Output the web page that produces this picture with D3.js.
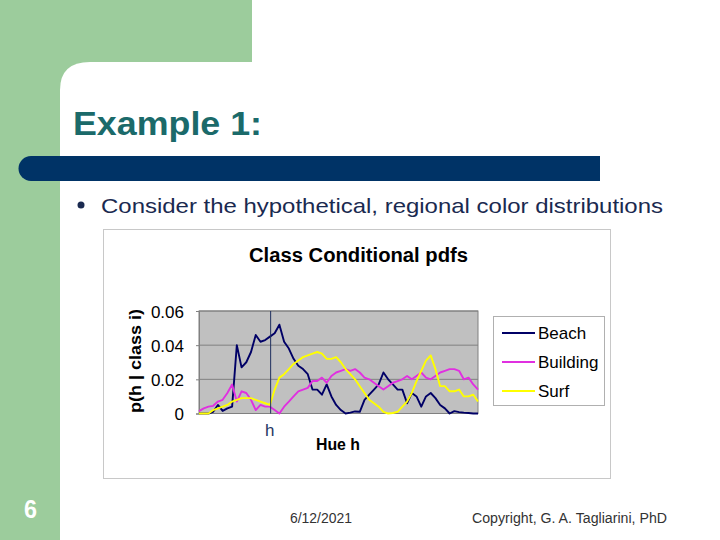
<!DOCTYPE html>
<html><head><meta charset="utf-8">
<script src="https://cdn.jsdelivr.net/npm/d3@7"></script>
<style>html,body{margin:0;padding:0;background:#fff;}svg{display:block;font-family:Arial,"Liberation Sans",sans-serif;}</style>
</head><body>
<svg id="c" width="720" height="540"></svg>
<script>
const hueIndex = d3.range(60);
const beach = [0,0,0,0.001,0.005,0.0015,0.003,0.004,0.040,0.027,0.030,0.036,0.046,0.042,0.043,0.045,0.047,0.052,0.042,0.038,0.032,0.028,0.026,0.023,0.014,0.014,0.011,0.017,0.010,0.005,0.002,0,0.0005,0.0012,0.001,0.008,0.011,0.014,0.017,0.024,0.020,0.017,0.014,0.014,0.006,0.012,0.010,0.004,0.010,0.012,0.009,0.005,0.003,0,0.0014,0.0008,0.0005,0.0003,0,0];
const building = [0.0014,0.003,0.004,0.0045,0.007,0.008,0.012,0.017,0.007,0.013,0.012,0.008,0.002,0.005,0.004,0.004,0.002,0,0.004,0.007,0.010,0.013,0.014,0.015,0.019,0.019,0.021,0.018,0.022,0.024,0.025,0.026,0.025,0.026,0.024,0.021,0.020,0.018,0.016,0.014,0.016,0.018,0.019,0.020,0.022,0.020,0.022,0.024,0.021,0.020,0.022,0.024,0.025,0.026,0.026,0.025,0.020,0.021,0.017,0.014];
const surf = [0,0,0,0.002,0.003,0.004,0.005,0.007,0.008,0.009,0.009,0.009,0.008,0.007,0.006,0.005,0.014,0.021,0.023,0.026,0.029,0.031,0.033,0.034,0.035,0.036,0.035,0.032,0.032,0.033,0.030,0.026,0.023,0.020,0.016,0.012,0.008,0.006,0.004,0.001,0,0.0003,0.001,0.004,0.007,0.012,0.019,0.025,0.031,0.034,0.026,0.016,0.016,0.013,0.013,0.014,0.010,0.010,0.011,0.007];
const seriesNames = ["Beach","Building","Surf"];
const seriesColors = ["#000066","#e030e0","#ffff00"];
const yTicks = [0,0.02,0.04,0.06];
const yTickLabels = ["0","0.02","0.04","0.06"];
const hMarker = 15.15;

const svg = d3.select("#c");
const green = "#9ccc9c";
function txt(x,y,s,opts){
  const t = svg.append("text").attr("x",x).attr("y",y).text(s);
  for (const k in opts) t.attr(k,opts[k]);
  return t;
}
// slide decoration
svg.append("rect").attr("x",0).attr("y",0).attr("width",252).attr("height",90).attr("fill",green);
svg.append("rect").attr("x",0).attr("y",0).attr("width",60).attr("height",540).attr("fill",green);
svg.append("path").attr("d","M60,540 L60,90 Q60,62 90,62 L720,62 L720,540 Z").attr("fill","#fff");
txt(73,135,"Example 1:",{"font-size":33,"font-weight":"bold",fill:"#1b6a6a",textLength:189,lengthAdjust:"spacingAndGlyphs"});
svg.append("path").attr("d","M31,156 L600,156 L600,181 L31,181 A12.5,12.5 0 0 1 31,156 Z").attr("fill","#003366");
svg.append("circle").attr("cx",81).attr("cy",205).attr("r",3.5).attr("fill","#1a2a50");
txt(101,213,"Consider the hypothetical, regional color distributions",{"font-size":21,fill:"#1a2a50",textLength:562,lengthAdjust:"spacingAndGlyphs"});
txt(24,518,"6",{"font-size":25,"font-weight":"bold",fill:"#fff",textLength:13,lengthAdjust:"spacingAndGlyphs"});
txt(290,523,"6/12/2021",{"font-size":14,fill:"#333",textLength:62,lengthAdjust:"spacingAndGlyphs"});
txt(472,523,"Copyright, G. A. Tagliarini, PhD",{"font-size":14,fill:"#333",textLength:195,lengthAdjust:"spacingAndGlyphs"});

// chart box
svg.append("rect").attr("x",103.5).attr("y",229.5).attr("width",507).attr("height",249).attr("fill","#fff").attr("stroke","#c8c8c8");
txt(249,262,"Class Conditional pdfs",{"font-size":20,"font-weight":"bold",fill:"#000",textLength:219,lengthAdjust:"spacingAndGlyphs"});

const px0=199, px1=478, py0=311, py1=413.5;
const x = d3.scaleLinear().domain([0,hueIndex.length-1]).range([px0,px1]);
const y = d3.scaleLinear().domain([0,0.06]).range([py1,py0]);

svg.append("rect").attr("x",px0).attr("y",py0).attr("width",px1-px0).attr("height",py1-py0).attr("fill","#c0c0c0").attr("stroke","#808080").attr("stroke-width",1);
svg.append("g").selectAll("line").data(yTicks.slice(1)).join("line")
  .attr("x1",px0).attr("x2",px1).attr("y1",d=>y(d)).attr("y2",d=>y(d)).attr("stroke","#808080").attr("stroke-width",1);

const yAxis = svg.append("g").attr("transform",`translate(${px0},0)`)
  .call(d3.axisLeft(y).tickValues(yTicks).tickFormat((d,i)=>yTickLabels[i]).tickSize(3).tickPadding(12));
yAxis.select(".domain").attr("stroke","#808080");
yAxis.selectAll(".tick line").attr("stroke","#808080");
yAxis.selectAll("text").attr("font-size",17).attr("font-family","Arial,'Liberation Sans',sans-serif").attr("fill","#000").attr("dy","0.36em");

svg.append("text").attr("transform","translate(141,361) rotate(-90)").attr("font-size",16).attr("font-weight","bold").attr("text-anchor","middle")
  .attr("textLength",104).attr("lengthAdjust","spacingAndGlyphs").text("p(h | class i)");

const allSeries=[beach,building,surf];
const line = d3.line().x((d,i)=>x(i)).y(d=>y(d));
svg.append("g").selectAll("path").data(allSeries).join("path")
  .attr("d",d=>line(d)).attr("fill","none").attr("stroke",(d,i)=>seriesColors[i]).attr("stroke-width",1.9).attr("stroke-linejoin","round");

svg.append("line").attr("x1",x(hMarker)).attr("x2",x(hMarker)).attr("y1",py0).attr("y2",py1).attr("stroke","#1f2f5f").attr("stroke-width",1);
txt(x(hMarker)-1,436,"h",{"font-size":17,"text-anchor":"middle",fill:"#1f3864"});
txt(316,450,"Hue h",{"font-size":16,"font-weight":"bold",textLength:44,lengthAdjust:"spacingAndGlyphs"});

// legend
const lg = svg.append("g");
lg.append("rect").attr("x",493.5).attr("y",316.5).attr("width",111).attr("height",89).attr("fill","#fff").attr("stroke","#b0b0b0");
const ent = lg.selectAll("g").data(seriesNames).join("g").attr("transform",(d,i)=>`translate(0,${333+i*29})`);
ent.append("line").attr("x1",502).attr("x2",535).attr("y1",0).attr("y2",0).attr("stroke",(d,i)=>seriesColors[i]).attr("stroke-width",1.9);
ent.append("text").attr("x",538).attr("y",6).attr("font-size",17).text(d=>d);
</script>
</body></html>
